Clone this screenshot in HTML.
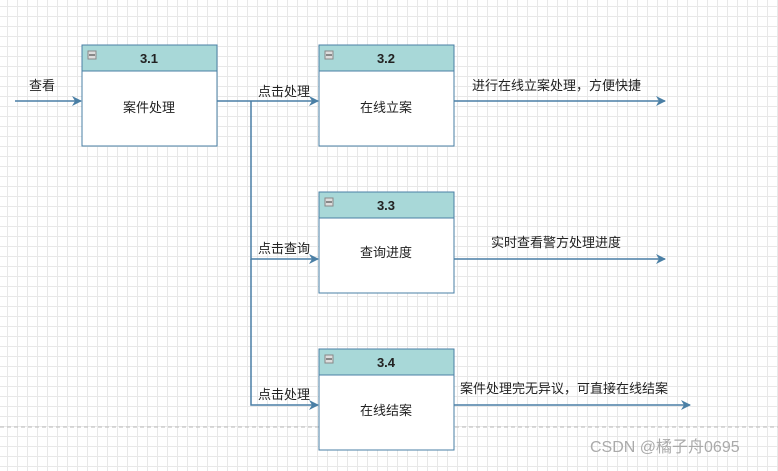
<!DOCTYPE html>
<html><head><meta charset="utf-8"><style>
body{margin:0;width:778px;height:466px;overflow:hidden;background:#fff;
background-image:linear-gradient(#e8e8e8 1px,transparent 1px),linear-gradient(90deg,#e8e8e8 1px,transparent 1px);background-size:10px 10px;background-position:-3px -4px;}
text{font-family:"Liberation Sans","Noto Sans CJK SC",sans-serif;font-size:13px;fill:#222}
</style></head><body>
<svg width="778" height="466" xmlns="http://www.w3.org/2000/svg">
<defs><marker id="a" markerWidth="10" markerHeight="10" refX="9" refY="5" orient="auto" markerUnits="userSpaceOnUse"><path d="M0,0 L10,5 L0,10 L3,5 Z" fill="#4a7fa5"/></marker></defs>
<line x1="0" y1="427" x2="778" y2="427" stroke="#bbb" stroke-dasharray="4,3"/>
<g stroke="#4a7fa5" stroke-width="1.5" fill="none">
<line x1="15" y1="101" x2="81" y2="101" marker-end="url(#a)"/>
<line x1="217" y1="101" x2="318" y2="101" marker-end="url(#a)"/>
<polyline points="251,101 251,259 318,259" marker-end="url(#a)"/>
<polyline points="251,259 251,405 318,405" marker-end="url(#a)"/>
<line x1="454" y1="101" x2="665" y2="101" marker-end="url(#a)"/>
<line x1="454" y1="259" x2="665" y2="259" marker-end="url(#a)"/>
<line x1="454" y1="405" x2="690" y2="405" marker-end="url(#a)"/>
</g>
<g id="boxes">
<g transform="translate(82,45)"><rect x="0" y="0" width="135" height="101" fill="#fff" stroke="#4a7fa5"/><rect x="0" y="0" width="135" height="26" fill="#a8d8d8" stroke="#4a7fa5"/><rect x="6" y="6" width="8" height="8" fill="#ddd" stroke="#888"/><line x1="7" y1="10" x2="13" y2="10" stroke="#333"/><text x="67" y="18" text-anchor="middle" font-weight="bold" style="font-size:13px">3.1</text><text x="67" y="67" text-anchor="middle">案件处理</text></g>
<g transform="translate(319,45)"><rect x="0" y="0" width="135" height="101" fill="#fff" stroke="#4a7fa5"/><rect x="0" y="0" width="135" height="26" fill="#a8d8d8" stroke="#4a7fa5"/><rect x="6" y="6" width="8" height="8" fill="#ddd" stroke="#888"/><line x1="7" y1="10" x2="13" y2="10" stroke="#333"/><text x="67" y="18" text-anchor="middle" font-weight="bold">3.2</text><text x="67" y="67" text-anchor="middle">在线立案</text></g>
<g transform="translate(319,192)"><rect x="0" y="0" width="135" height="101" fill="#fff" stroke="#4a7fa5"/><rect x="0" y="0" width="135" height="26" fill="#a8d8d8" stroke="#4a7fa5"/><rect x="6" y="6" width="8" height="8" fill="#ddd" stroke="#888"/><line x1="7" y1="10" x2="13" y2="10" stroke="#333"/><text x="67" y="18" text-anchor="middle" font-weight="bold">3.3</text><text x="67" y="65" text-anchor="middle">查询进度</text></g>
<g transform="translate(319,349)"><rect x="0" y="0" width="135" height="101" fill="#fff" stroke="#4a7fa5"/><rect x="0" y="0" width="135" height="26" fill="#a8d8d8" stroke="#4a7fa5"/><rect x="6" y="6" width="8" height="8" fill="#ddd" stroke="#888"/><line x1="7" y1="10" x2="13" y2="10" stroke="#333"/><text x="67" y="18" text-anchor="middle" font-weight="bold">3.4</text><text x="67" y="66" text-anchor="middle">在线结案</text></g>
</g>
<text x="29" y="90">查看</text>
<text x="258" y="96">点击处理</text>
<text x="258" y="253">点击查询</text>
<text x="258" y="399">点击处理</text>
<text x="472" y="90">进行在线立案处理，方便快捷</text>
<text x="491" y="247">实时查看警方处理进度</text>
<text x="460" y="393">案件处理完无异议，可直接在线结案</text>
<text x="590" y="452" style="font-size:16px;fill:#aaa">CSDN @橘子舟0695</text>
</svg>
</body></html>
